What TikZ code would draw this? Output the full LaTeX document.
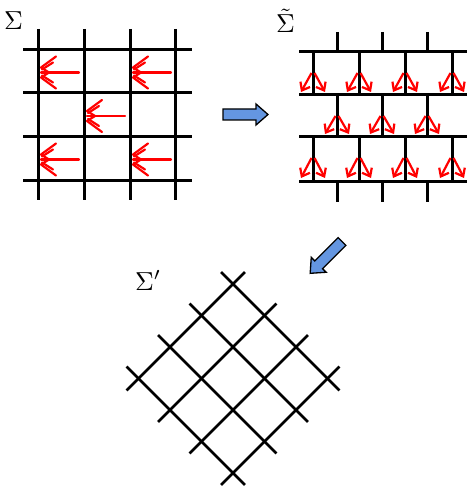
\documentclass[tikz,border=0pt]{standalone}
\usepackage{graphicx}
\usetikzlibrary{arrows.meta}
\begin{document}
\begin{tikzpicture}[x=1pt,y=-1pt,
  gridline/.style={line width=3pt, black},
  diagline/.style={line width=2.8pt, black},
  redline/.style={red, line width=2.2pt, line cap=round, line join=round},
  barb/.style={red, line width=2.2pt, -{Straight Barb[length=7pt,width=11pt]}},
  blockarrow/.style={draw=black, line width=1.3pt, fill={rgb,255:red,100;green,150;blue,225}, line join=miter},
  lab/.style={inner sep=0pt, anchor=base west}
]
\useasboundingbox (0,0) rectangle (474,489);

% labels
\node[lab] (sig) at (4,30) {\scalebox{2.6}{$\Sigma$}};
\node[lab] (sigt) at (276,33) {\scalebox{2.6}{$\tilde\Sigma$}};
\node[lab] (sigp) at (135,290) {\scalebox{2.6}{$\Sigma'$}};

% ---- left grid
\foreach \x in {38,84,130,175} \draw[gridline] (\x,29) -- (\x,200);
\foreach \y in {50,93,137,180} \draw[gridline] (23,\y) -- (192,\y);

% red arrows with notched double heads (tip positions)
\foreach \tx/\ty in {41/72.5, 133/72.5, 87/116, 41/159.5, 133/159.5}{
  \draw[redline] (\tx+38,\ty) -- (\tx,\ty);
  \draw[redline] (\tx+15,\ty-16) -- (\tx,\ty-5) -- (\tx+8,\ty) -- (\tx,\ty+5) -- (\tx+15,\ty+16);
  \draw[redline] (\tx+12,\ty-10) -- (\tx+1,\ty-3);
  \draw[redline] (\tx+12,\ty+10) -- (\tx+1,\ty+3);
}

% ---- right grid
\foreach \y in {52,95,137,181} \draw[gridline] (299,\y) -- (467,\y);
\foreach \x in {313,359,405,452}{
  \draw[gridline] (\x,52) -- (\x,95);
  \draw[gridline] (\x,137) -- (\x,181);
}
\foreach \x in {337,382,427}{
  \draw[gridline] (\x,32) -- (\x,52);
  \draw[gridline] (\x,95) -- (\x,137);
  \draw[gridline] (\x,181) -- (\x,202);
}
% red arrows in right grid
\foreach \x in {313,359,405,452}{
  \foreach \ya/\yb in {73/92, 158/178}{
    \draw[barb] (\x-1.5,\ya) -- (\x-12,\yb);
    \draw[barb] (\x+1.5,\ya) -- (\x+12,\yb);
  }
}
\foreach \x in {337,382,427}{
  \draw[barb] (\x-1.5,116) -- (\x-12,134);
  \draw[barb] (\x+1.5,116) -- (\x+12,134);
}

% ---- block arrows
\begin{scope}[shift={(223,114.5)}]
  \draw[blockarrow] (0,-5.5) -- (33,-5.5) -- (33,-10.5) -- (45,0) -- (33,10.5) -- (33,5.5) -- (0,5.5) -- cycle;
\end{scope}
\begin{scope}[shift={(342,241.5)}, rotate=225]
  \draw[blockarrow] (0,-5.5) -- (33,-5.5) -- (33,-10.5) -- (45,0) -- (33,10.5) -- (33,5.5) -- (0,5.5) -- cycle;
\end{scope}

% ---- rotated grid
\def\u{31.5}
\foreach \j in {0,1,2,3}{
  \draw[diagline] ({233-\u*\j-0.38*\u},{284+\u*\j-0.38*\u}) -- ({233-\u*\j+3.38*\u},{284+\u*\j+3.38*\u});
  \draw[diagline] ({233+\u*\j+0.38*\u},{284+\u*\j-0.38*\u}) -- ({233+\u*\j-3.38*\u},{284+\u*\j+3.38*\u});
}
\end{tikzpicture}
\end{document}
